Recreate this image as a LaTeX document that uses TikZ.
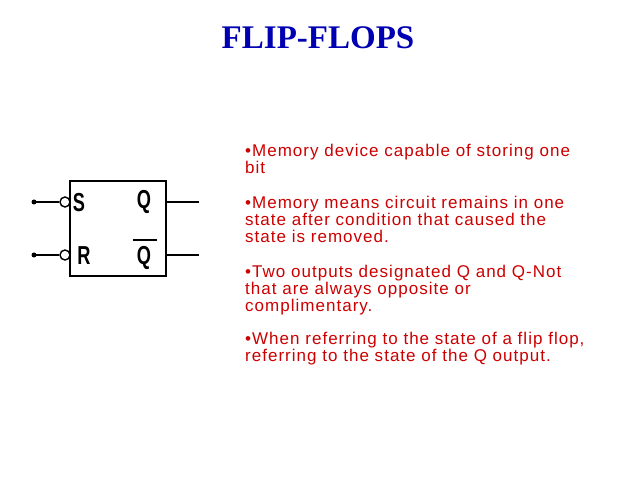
\documentclass[tikz,border=0pt]{standalone}
\usepackage{fontspec}
\setmainfont{Liberation Serif}
\newfontfamily\bodyf[LetterSpace=6]{Liberation Sans}
\newfontfamily\lblf{Liberation Sans}
\begin{document}
\begin{tikzpicture}[x=1pt,y=-1pt,
  txt/.style={anchor=north west,inner sep=0pt,align=left,text=red!80!black,font=\bodyf\fontsize{17}{17}\selectfont},
  lbl/.style={font=\lblf\bfseries\fontsize{26}{26}\selectfont,inner sep=0pt,xscale=0.7,transform shape},
  wire/.style={line width=1.4pt}]
\useasboundingbox (0,0) rectangle (638,478);
\node[font=\bfseries\fontsize{33}{33}\selectfont,text=blue!70!black] (title) at (318,38) {FLIP-FLOPS};
\node[txt] (b1) at (245,144) {•Memory device capable of storing one\\bit};
\node[txt] (b2) at (245,196) {•Memory means circuit remains in one\\state after condition that caused the\\state is removed.};
\node[txt] (b3) at (245,265) {•Two outputs designated Q and Q-Not\\that are always opposite or\\complimentary.};
\node[txt] (b4) at (245,332) {•When referring to the state of a flip flop,\\referring to the state of the Q output.};
\draw[wire] (70,181) rectangle (166,276);
\node[draw,circle,wire,minimum size=10pt,inner sep=0pt] (bs) at (65,202) {};
\node[draw,circle,wire,minimum size=10pt,inner sep=0pt] (br) at (65,255) {};
\fill (34,202) circle (2.5pt) coordinate (ds);
\fill (34,255) circle (2.5pt) coordinate (dr);
\draw[wire] (ds) -- (bs.west);
\draw[wire] (dr) -- (br.west);
\node[lbl] (S) at (79,203) {S};
\node[lbl] (R) at (84,256) {R};
\node[lbl] (Q) at (144,202) {Q};
\node[lbl] (Qn) at (144,258) {Q};
\draw[wire] (133,240) -- (157,240);
\coordinate (qo) at (199,202);
\coordinate (qno) at (199,255);
\draw[wire] (166,202) -- (qo);
\draw[wire] (166,255) -- (qno);
\end{tikzpicture}
\end{document}
